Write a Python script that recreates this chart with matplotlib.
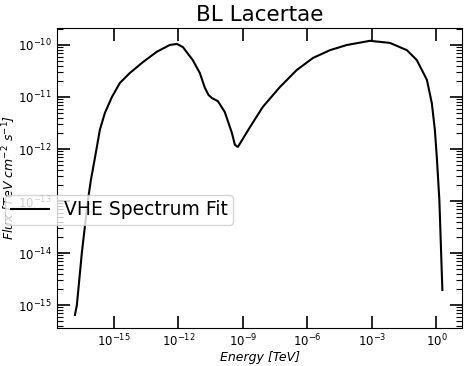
import numpy as np
import matplotlib
matplotlib.use("Agg")
import matplotlib.pyplot as plt

# curve (log10 of energy in TeV, log10 of flux)
log_energy = [-16.81, -16.72, -16.49, -16.21, -16.07, -15.88, -15.65, -15.42,
              -15.09, -14.72, -14.26, -13.65, -13.0, -12.4, -12.07, -11.79,
              -11.33, -11.0, -10.77, -10.6, -10.44, -10.16, -9.84, -9.51,
              -9.37, -9.23, -8.67, -8.07, -7.28, -6.49, -5.74, -4.95,
              -4.16, -3.09, -2.16, -1.37, -0.91, -0.44, -0.21, -0.07, 0.02,
              0.14, 0.28]
log_flux = [-15.19, -15.0, -14.0, -13.0, -12.6, -12.17, -11.63, -11.31,
            -11.0, -10.73, -10.54, -10.33, -10.13, -10.0, -9.98, -10.04,
            -10.29, -10.54, -10.82, -10.96, -11.02, -11.08, -11.29, -11.69,
            -11.92, -11.96, -11.58, -11.19, -10.81, -10.48, -10.25, -10.1,
            -10.0, -9.92, -9.96, -10.1, -10.29, -10.67, -11.12, -11.63, -12.15,
            -12.98, -14.71]

energy = 10.0 ** np.array(log_energy)
flux = 10.0 ** np.array(log_flux)

fig = plt.figure(figsize=(4.74, 3.66), dpi=100)
ax = fig.add_axes([0.12, 0.104, 0.855, 0.82])

ax.plot(energy, flux, color='black', linewidth=1.5, label='VHE Spectrum Fit')
ax.set_xscale('log')
ax.set_yscale('log')
ax.set_xlim(10**-17.65, 10**1.2)
ax.set_ylim(10**-15.44, 10**-9.67)

ax.set_xticks([1e-15, 1e-12, 1e-9, 1e-6, 1e-3, 1e0])
ax.xaxis.set_minor_locator(matplotlib.ticker.NullLocator())
ax.tick_params(which='major', direction='in', length=9, width=1.2, top=True, right=True, labelsize=8.5)
ax.tick_params(which='minor', direction='in', length=4.5, width=0.8, top=True, right=True)

ax.set_title('BL Lacertae', fontsize=15.5, pad=5)
ax.set_xlabel('Energy [TeV]', fontsize=9, style='italic', labelpad=1)
ax.set_ylabel(r'Flux [TeV cm$^{-2}$ s$^{-1}$]', fontsize=9, style='italic', labelpad=0)

ax.legend(loc='center left', bbox_to_anchor=(-0.15, 0.393), fontsize=13.5,
          handlelength=2.0, borderpad=0.3)

fig.savefig('out.png', dpi=100)
